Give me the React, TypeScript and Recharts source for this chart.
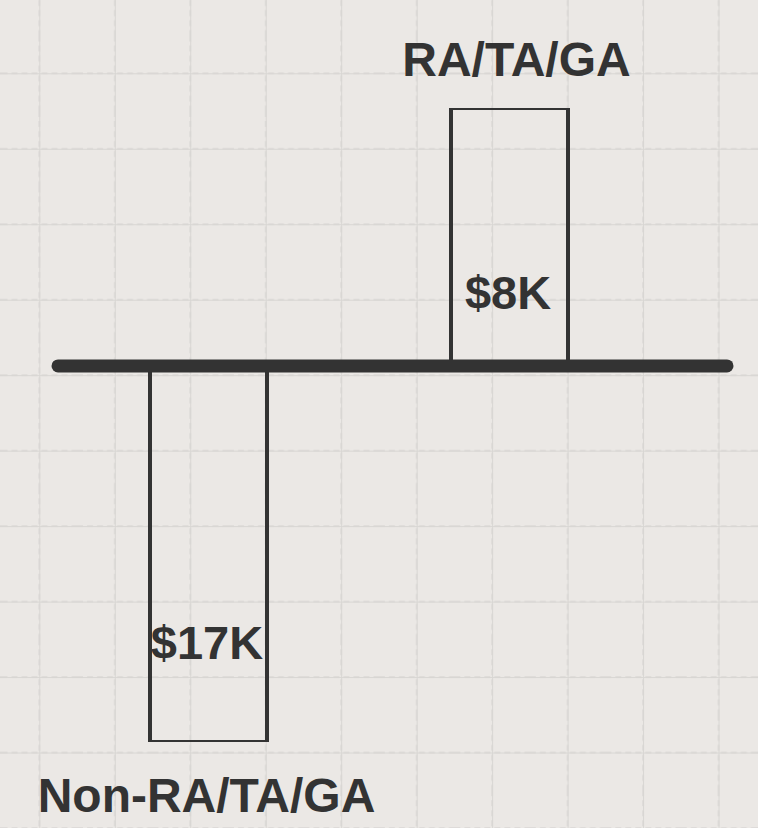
import React from 'react';
import { BarChart, Bar, XAxis, YAxis, ReferenceLine, LabelList } from 'recharts';

const categories = ['Non-RA/TA/GA', 'RA/TA/GA'];
const values = [-17, 8];
const valueLabels = ['$17K', '$8K'];

const data = categories.map((name, i) => ({ name, value: values[i], label: valueLabels[i] }));

const INK = '#333333';
const FONT = '"Liberation Sans", Arial, Helvetica, sans-serif';

const ValueLabel = (props: any) => {
  const { x, y, width, height, value } = props;
  const top = Math.min(y, y + height);
  const h = Math.abs(height);
  return (
    <text
      x={x + width / 2 - 1.5}
      y={top + 0.78 * h}
      textAnchor="middle"
      fontFamily={FONT}
      fontWeight="bold"
      fontSize={47}
      fill={INK}
    >
      {value}
    </text>
  );
};

const CategoryLabel = (props: any) => {
  const { x, y, width, height, value, index } = props;
  const top = Math.min(y, y + height);
  const bottom = Math.max(y, y + height);
  const v = values[index] ?? 0;
  const ty = v >= 0 ? top - 32 : bottom + 70;
  const dx = v >= 0 ? 7 : -2;
  return (
    <text
      x={x + width / 2 + dx}
      y={ty}
      textAnchor="middle"
      fontFamily={FONT}
      fontWeight="bold"
      fontSize={48}
      fill={INK}
    >
      {value}
    </text>
  );
};

const GridBackground = () => (
  <svg width={758} height={828} style={{ position: 'absolute', left: 0, top: 0 }}>
    <defs>
      <pattern id="minor" x={39.3 - 37.73} y={73.3 - 37.73} width={75.47} height={75.47} patternUnits="userSpaceOnUse">
        <line x1={37.73} y1={0} x2={37.73} y2={75.47} stroke="#dad8d5" strokeWidth={1.5} strokeDasharray="6 4" />
        <line x1={0} y1={37.73} x2={75.47} y2={37.73} stroke="#dad8d5" strokeWidth={1.5} strokeDasharray="6 4" />
      </pattern>
      <pattern id="major" x={39.3} y={73.3} width={75.47} height={75.47} patternUnits="userSpaceOnUse">
        <line x1={0} y1={0} x2={0} y2={75.47} stroke="#d8d6d3" strokeWidth={2} />
        <line x1={0} y1={0} x2={75.47} y2={0} stroke="#d8d6d3" strokeWidth={2} />
      </pattern>
    </defs>
    <rect x={0} y={0} width={758} height={828} fill="#ebe8e5" />
    <rect x={0} y={0} width={758} height={828} fill="url(#minor)" />
    <rect x={0} y={0} width={758} height={828} fill="url(#major)" />
  </svg>
);

export default function App() {
  return (
    <div style={{ position: 'absolute', left: 0, top: 0, width: 758, height: 828, overflow: 'hidden', background: '#ebe8e5' }}>
      <GridBackground />
      <div style={{ position: 'absolute', left: 0, top: 0 }}>
        <BarChart
          width={758}
          height={828}
          data={data}
          margin={{ top: 108, right: 31, bottom: 86, left: 58 }}
          barCategoryGap={0}
        >
          <XAxis dataKey="name" hide padding={{ left: 0, right: 67 }} />
          <YAxis type="number" scale="sqrt" domain={[-17, 8]} allowDataOverflow hide />
          <Bar dataKey="value" fill="none" stroke={INK} strokeWidth={4} barSize={117} isAnimationActive={false}>
            <LabelList dataKey="label" content={ValueLabel} />
            <LabelList dataKey="name" content={CategoryLabel} />
          </Bar>
          <ReferenceLine y={0} stroke={INK} strokeWidth={13} strokeLinecap="round" ifOverflow="extendDomain" />
        </BarChart>
      </div>
    </div>
  );
}
